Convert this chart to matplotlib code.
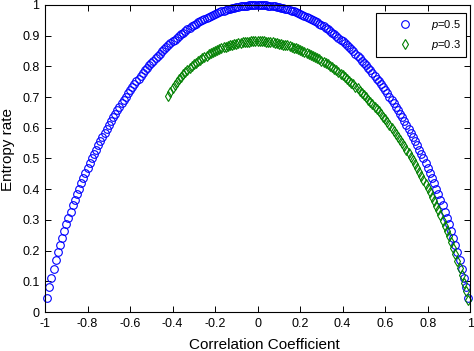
import numpy as np
import matplotlib
matplotlib.use("Agg")
import matplotlib.pyplot as plt

plt.rcParams['font.family'] = ['Liberation Sans', 'DejaVu Sans']
plt.rcParams['mathtext.fontset'] = 'custom'
plt.rcParams['mathtext.it'] = 'Liberation Sans:italic'
plt.rcParams['mathtext.rm'] = 'Liberation Sans'

# correlation coefficient grid (step 0.01)
rho_05 = np.arange(-99, 100) / 100
rho_03 = np.arange(-42, 100) / 100

# entropy rate, p=0.5
h_05 = [0.045, 0.081, 0.112, 0.141, 0.169, 0.194, 0.219, 0.242, 0.265, 0.286,
        0.307, 0.327, 0.347, 0.366, 0.384, 0.402, 0.420, 0.436, 0.453, 0.469,
        0.485, 0.500, 0.515, 0.529, 0.544, 0.557, 0.571, 0.584, 0.597, 0.610,
        0.622, 0.634, 0.646, 0.658, 0.669, 0.680, 0.691, 0.701, 0.712, 0.722,
        0.732, 0.741, 0.751, 0.760, 0.769, 0.778, 0.787, 0.795, 0.803, 0.811,
        0.819, 0.827, 0.834, 0.841, 0.849, 0.855, 0.862, 0.869, 0.875, 0.881,
        0.887, 0.893, 0.899, 0.904, 0.910, 0.915, 0.920, 0.925, 0.930, 0.934,
        0.938, 0.943, 0.947, 0.951, 0.954, 0.958, 0.961, 0.965, 0.968, 0.971,
        0.974, 0.977, 0.979, 0.981, 0.984, 0.986, 0.988, 0.990, 0.991, 0.993,
        0.994, 0.995, 0.996, 0.997, 0.998, 0.999, 0.999, 1.000, 1.000,
        1.000,
        1.000, 1.000, 0.999, 0.999, 0.998, 0.997, 0.996, 0.995, 0.994,
        0.993, 0.991, 0.990, 0.988, 0.986, 0.984, 0.981, 0.979, 0.977, 0.974,
        0.971, 0.968, 0.965, 0.961, 0.958, 0.954, 0.951, 0.947, 0.943, 0.938,
        0.934, 0.930, 0.925, 0.920, 0.915, 0.910, 0.904, 0.899, 0.893, 0.887,
        0.881, 0.875, 0.869, 0.862, 0.855, 0.849, 0.841, 0.834, 0.827, 0.819,
        0.811, 0.803, 0.795, 0.787, 0.778, 0.769, 0.760, 0.751, 0.741, 0.732,
        0.722, 0.712, 0.701, 0.691, 0.680, 0.669, 0.658, 0.646, 0.634, 0.622,
        0.610, 0.597, 0.584, 0.571, 0.557, 0.544, 0.529, 0.515, 0.500, 0.485,
        0.469, 0.453, 0.436, 0.420, 0.402, 0.384, 0.366, 0.347, 0.327, 0.307,
        0.286, 0.265, 0.242, 0.219, 0.194, 0.169, 0.141, 0.112, 0.081, 0.045]

# entropy rate, p=0.3
h_03 = [0.705, 0.718, 0.729, 0.740, 0.749, 0.758, 0.766, 0.774, 0.781, 0.788,
        0.794, 0.800, 0.806, 0.812, 0.817, 0.822, 0.827, 0.831, 0.835, 0.839,
        0.843, 0.847, 0.850, 0.853, 0.856, 0.859, 0.862, 0.864, 0.866, 0.869,
        0.870, 0.872, 0.874, 0.875, 0.877, 0.878, 0.879, 0.879, 0.880, 0.881,
        0.881, 0.881, 0.881, 0.881, 0.881, 0.881, 0.880, 0.880, 0.879, 0.878,
        0.877, 0.876, 0.874, 0.873, 0.871, 0.869, 0.868, 0.866, 0.863, 0.861,
        0.859, 0.856, 0.853, 0.851, 0.848, 0.844, 0.841, 0.838, 0.834, 0.831,
        0.827, 0.823, 0.819, 0.815, 0.810, 0.806, 0.801, 0.797, 0.792, 0.787,
        0.781, 0.776, 0.771, 0.765, 0.759, 0.753, 0.747, 0.741, 0.734, 0.728,
        0.721, 0.714, 0.707, 0.700, 0.692, 0.685, 0.677, 0.669, 0.661, 0.653,
        0.645, 0.636, 0.627, 0.618, 0.609, 0.600, 0.590, 0.580, 0.570, 0.560,
        0.550, 0.539, 0.528, 0.517, 0.505, 0.494, 0.482, 0.470, 0.457, 0.444,
        0.431, 0.418, 0.404, 0.390, 0.376, 0.361, 0.346, 0.331, 0.315, 0.298,
        0.281, 0.264, 0.246, 0.227, 0.208, 0.188, 0.167, 0.144, 0.121, 0.096,
        0.069, 0.039]

xticks = [-1, -0.8, -0.6, -0.4, -0.2, 0, 0.2, 0.4, 0.6, 0.8, 1]
xticklabels = ['-1', '-0.8', '-0.6', '-0.4', '-0.2', '0', '0.2', '0.4', '0.6', '0.8', '1']
yticks = [0, 0.1, 0.2, 0.3, 0.4, 0.5, 0.6, 0.7, 0.8, 0.9, 1]
yticklabels = ['0', '0.1', '0.2', '0.3', '0.4', '0.5', '0.6', '0.7', '0.8', '0.9', '1']

fig = plt.figure(figsize=(4.74, 3.51), dpi=100)
ax = fig.add_axes([0.095, 0.111, 0.897, 0.875])

ax.plot(rho_05, h_05, 'o', ls='none', mfc='none', mec='#0000ff', ms=5.5, mew=0.8,
        clip_on=False, label='$p$=0.5')
ax.plot(rho_03, h_03, 'd', ls='none', mfc='none', mec='#008000', ms=5.5, mew=0.8,
        clip_on=False, label='$p$=0.3')

ax.set_xlim(-1, 1)
ax.set_ylim(0, 1)
ax.set_xticks(xticks)
ax.set_xticklabels(xticklabels)
ax.set_yticks(yticks)
ax.set_yticklabels(yticklabels)
ax.tick_params(direction='in', length=4, width=0.7, top=True, right=True,
               labelsize=9, pad=4)
for s in ax.spines.values():
    s.set_linewidth(0.8)

ax.set_xlabel('Correlation Coefficient', fontsize=11)
ax.set_ylabel('Entropy rate', fontsize=11)
ax.xaxis.set_label_coords(0.515, -0.083)
ax.yaxis.set_label_coords(-0.07, 0.528)

leg = ax.legend(loc='upper right', bbox_to_anchor=(0.9906, 0.975), borderaxespad=0,
                fontsize=8, numpoints=1, handlelength=4.2, handletextpad=0.3,
                borderpad=0.45, labelspacing=0.6, fancybox=False, framealpha=1)
leg.get_frame().set_edgecolor('black')
leg.get_frame().set_linewidth(0.8)

fig.savefig('out.png', dpi=100)
